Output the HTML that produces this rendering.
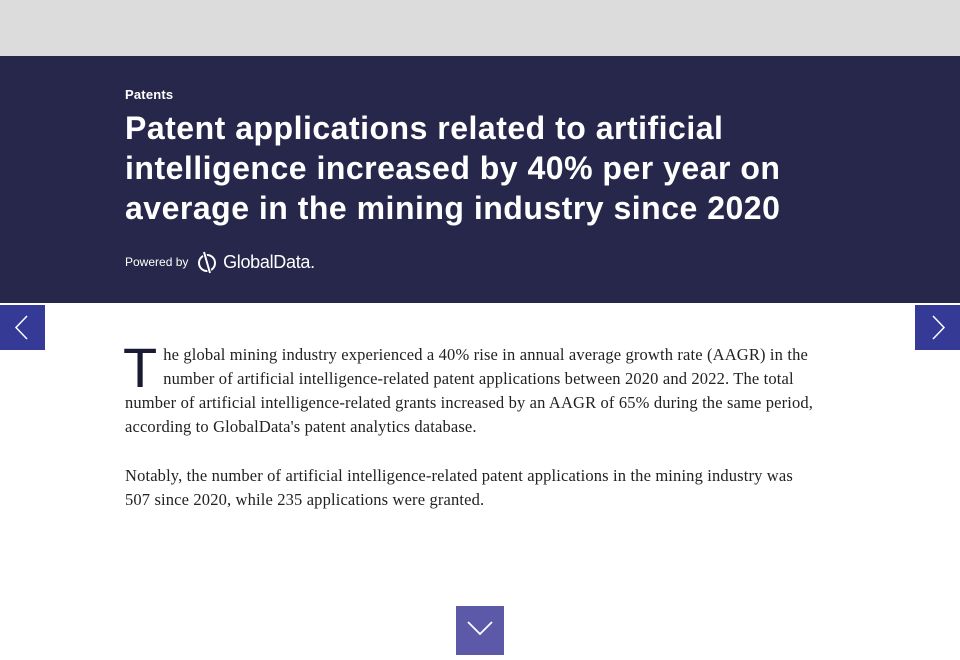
<!DOCTYPE html>
<html><head><meta charset="utf-8"><style>
*{margin:0;padding:0;box-sizing:border-box}
body{width:960px;height:655px;overflow:hidden;background:#fff;position:relative;font-family:"Liberation Sans",sans-serif}
.top{position:absolute;left:0;top:0;width:960px;height:56px;background:#dcdcdc}
.hdr{position:absolute;left:0;top:56px;width:960px;height:247px;background:#27274b;color:#fff}
.cat{position:absolute;left:125px;top:31px;font-size:13px;font-weight:bold;letter-spacing:0.2px}
.title{position:absolute;left:125px;top:52px;font-size:32px;font-weight:bold;line-height:40px;letter-spacing:0.5px;width:720px}
.pow{position:absolute;left:125px;top:194px;font-size:12px;display:flex;align-items:center}
.pow .logo{margin-left:8px;display:flex;align-items:center;font-size:18px;font-weight:normal;letter-spacing:-0.3px}
.nav{position:absolute;top:305px;width:45px;height:45px;background:#353a96}
.down{position:absolute;left:456px;top:606px;width:48px;height:49px;background:#5b59a8}
.txt{position:absolute;left:125px;width:700px;font-family:"Liberation Serif",serif;font-size:16.5px;letter-spacing:0.15px;line-height:24px;color:#222}
.dc{float:left;font-size:56px;line-height:46px;margin:2px 6px 0 -2px;color:#1a1a33;font-family:"Liberation Sans",sans-serif;letter-spacing:0}
</style></head><body>
<div class="top"></div>
<div class="hdr">
<div class="cat">Patents</div>
<div class="title">Patent applications related to artificial intelligence increased by 40% per year on average in the mining industry since 2020</div>
<div class="pow">Powered by <span class="logo"><svg width="22" height="24" viewBox="0 0 22 24"><circle cx="11" cy="13" r="8" fill="none" stroke="#fff" stroke-width="2"/><line x1="8" y1="2" x2="14" y2="23" stroke="#27274b" stroke-width="4"/><line x1="8" y1="2" x2="14" y2="23" stroke="#fff" stroke-width="2"/></svg>&nbsp;GlobalData.</span></div>
</div>
<div class="nav" style="left:0"><svg width="45" height="45"><polyline points="27,11 16,22.5 27,34" fill="none" stroke="#fff" stroke-width="1.5"/></svg></div>
<div class="nav" style="left:915px"><svg width="45" height="45"><polyline points="18,11 29,22.5 18,34" fill="none" stroke="#fff" stroke-width="1.5"/></svg></div>
<div class="txt" style="top:343px"><span class="dc">T</span>he global mining industry experienced a 40% rise in annual average growth rate (AAGR) in the number of artificial intelligence-related patent applications between 2020 and 2022. The total number of artificial intelligence-related grants increased by an AAGR of 65% during the same period, according to GlobalData's patent analytics database.</div>
<div class="txt" style="top:464px">Notably, the number of artificial intelligence-related patent applications in the mining industry was<br>507 since 2020, while 235 applications were granted.</div>
<div class="down"><svg width="48" height="49"><polyline points="12,16 24,28 36,16" fill="none" stroke="#fff" stroke-width="1.8"/></svg></div>
</body></html>
